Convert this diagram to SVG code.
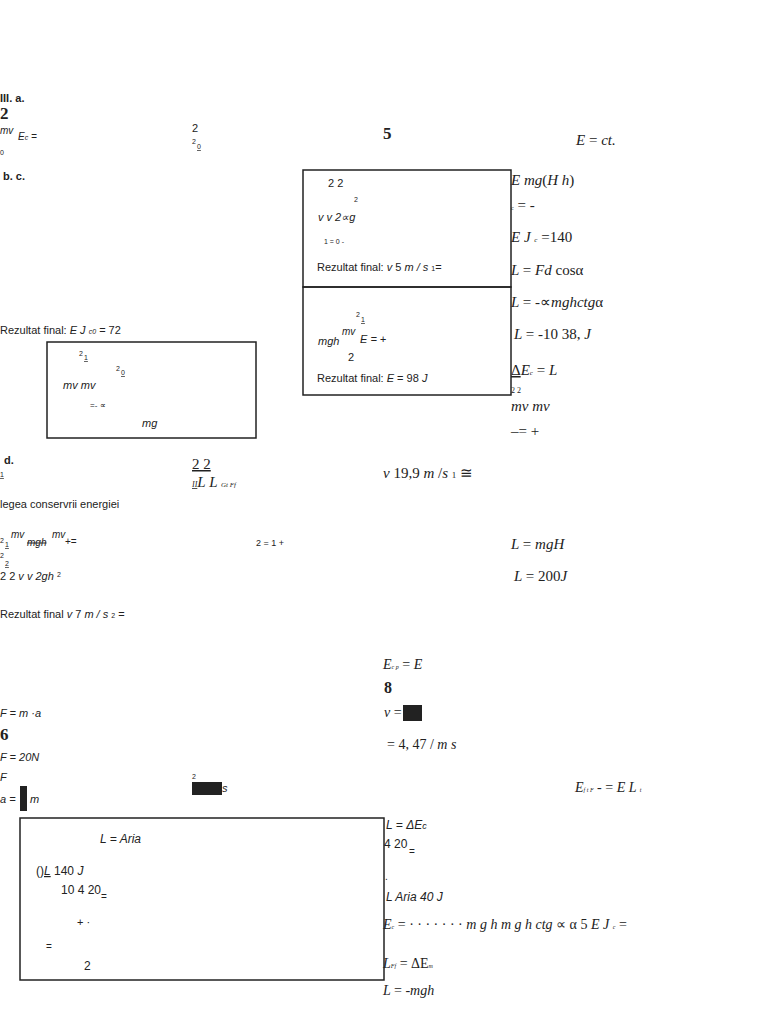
<svg xmlns="http://www.w3.org/2000/svg" width="768" height="1024" viewBox="0 0 768 1024">
<style>
.s{font-family:"Liberation Sans",Arial,sans-serif;font-size:11px;fill:#222}
.si{font-family:"Liberation Sans",Arial,sans-serif;font-size:11px;font-style:italic;fill:#222}
.sm{font-family:"Liberation Sans",Arial,sans-serif;font-size:7px;fill:#222}
.b{font-family:"Liberation Sans",Arial,sans-serif;font-size:11px;font-weight:bold;fill:#222}
.r{font-family:"Liberation Serif","Times New Roman",serif;font-size:15px;font-style:italic;fill:#222}
.rn{font-family:"Liberation Serif","Times New Roman",serif;font-size:15px;fill:#222}
.rb{font-family:"Liberation Serif","Times New Roman",serif;font-size:17px;font-weight:bold;fill:#222}
.box{fill:none;stroke:#222;stroke-width:1.5}
</style>
<rect width="768" height="1024" fill="#fff"/>
<g id="left-top">
<text class="b" x="0" y="102">III. a.</text>
<text class="rb" x="0" y="119">2</text>
<text class="si" x="0" y="134" style="font-size:10px">mv</text>
<text class="si" x="18" y="140" style="font-size:10px">E<tspan font-size="7">c</tspan> =</text>
<text class="sm" x="0" y="155">0</text>
<text class="s" x="192" y="132">2</text>
<text class="sm" x="192" y="144">2</text><text class="sm" x="197" y="149" text-decoration="underline">0</text>
<text class="b" x="3" y="180">b.   c.</text>
<text class="s" x="0" y="334">Rezultat final: <tspan font-style="italic">E J</tspan> <tspan font-size="7" font-style="italic">c0</tspan> = 72</text>
</g>
<g id="box1">
<rect class="box" x="47" y="342" width="209" height="96"/>
<text class="sm" x="79" y="356">2</text><text class="sm" x="84" y="360" text-decoration="underline">1</text>
<text class="sm" x="116" y="371">2</text><text class="sm" x="121" y="375" text-decoration="underline">0</text>
<text class="si" x="63" y="389">mv mv</text>
<text class="sm" x="90" y="408" style="font-size:8px">=- ∝</text>
<text class="si" x="142" y="427">mg</text>
</g>
<g id="box2">
<rect class="box" x="303" y="170" width="208" height="117"/>
<rect class="box" x="303" y="287" width="208" height="108"/>
<text class="s" x="328" y="187">2 2</text>
<text class="sm" x="354" y="202">2</text>
<text class="si" x="318" y="221">v v 2∝g</text>
<text class="sm" x="324" y="244">1 = 0 -</text>
<text class="s" x="317" y="271">Rezultat final: <tspan font-style="italic">v</tspan> 5 <tspan font-style="italic">m / s</tspan> <tspan font-size="7">1</tspan>=</text>
<text class="sm" x="356" y="317">2</text><text class="sm" x="361" y="322" text-decoration="underline">1</text>
<text class="si" x="342" y="335" style="font-size:10px">mv</text>
<text class="si" x="318" y="345">mgh</text>
<text class="si" x="360" y="343">E = +</text>
<text class="s" x="348" y="361">2</text>
<text class="s" x="317" y="382">Rezultat final: <tspan font-style="italic">E</tspan> = 98 <tspan font-style="italic">J</tspan></text>
</g>
<g id="right-top">
<text class="rb" x="383" y="139">5</text>
<text class="r" x="576" y="145">E <tspan font-style="normal">=</tspan> ct.</text>
<text class="r" x="511" y="185">E mg<tspan font-style="normal">(</tspan>H h<tspan font-style="normal">)</tspan></text>
<text class="rn" x="511" y="210"><tspan font-size="6">c</tspan> = -</text>
<text class="r" x="511" y="242">E J <tspan font-size="7">c</tspan> <tspan font-style="normal">=140</tspan></text>
<text class="r" x="511" y="275">L <tspan font-style="normal">=</tspan> Fd <tspan font-style="normal">cosα</tspan></text>
<text class="r" x="511" y="307">L <tspan font-style="normal">= -∝</tspan>mghctg<tspan font-style="normal">α</tspan></text>
<text class="r" x="514" y="339">L <tspan font-style="normal">= -10 38,</tspan> J</text>
<text class="r" x="511" y="375"><tspan font-style="normal" text-decoration="underline">Δ</tspan>E<tspan font-size="7">c</tspan> <tspan font-style="normal">=</tspan> L</text>
<text class="rn" x="511" y="393" style="font-size:8px">2 2</text>
<text class="r" x="511" y="411">mv mv</text>
<text class="rn" x="511" y="436">–= +</text>
<text class="r" x="383" y="478">v <tspan font-style="normal">19,9</tspan> m <tspan font-style="normal">/</tspan>s <tspan font-style="normal" font-size="9">1</tspan> <tspan font-style="normal">≅</tspan></text>
</g>
<g id="left-mid">
<text class="b" x="4" y="464">d.</text>
<text class="sm" x="0" y="477" text-decoration="underline">1</text>
<text class="rn" x="192" y="469" text-decoration="underline">2 2</text>
<text class="r" x="192" y="487"><tspan font-size="8" text-decoration="underline">II</tspan>L L <tspan font-size="7">Gt Ff</tspan></text>
<text class="s" x="0" y="508">legea conservrii energiei</text>
<text class="sm" x="0" y="543">2</text><text class="sm" x="5" y="547" text-decoration="underline">1</text>
<text class="si" x="11" y="538" style="font-size:10px">mv</text>
<text class="si" x="27" y="546" style="font-size:10px" text-decoration="line-through">mgh</text>
<text class="si" x="52" y="538" style="font-size:10px">mv</text>
<text class="s" x="65" y="545" style="font-size:10px">+=</text>
<text class="sm" x="0" y="558">2</text><text class="sm" x="5" y="566" text-decoration="underline">2</text>
<text class="s" x="0" y="580">2 2 <tspan font-style="italic">v v 2gh</tspan> <tspan font-size="7" baseline-shift="super">2</tspan></text>
<text class="s" x="256" y="546" style="font-size:9px">2 = 1 +</text>
<text class="s" x="0" y="618">Rezultat final <tspan font-style="italic">v</tspan> 7 <tspan font-style="italic">m / s</tspan> <tspan font-size="7">2</tspan> =</text>
<text class="r" x="511" y="549">L <tspan font-style="normal">=</tspan> mgH</text>
<text class="r" x="514" y="581">L <tspan font-style="normal">= 200</tspan>J</text>
</g>
<g id="left-bottom">
<text class="si" x="0" y="717">F = m ·a</text>
<text class="rb" x="0" y="740">6</text>
<text class="si" x="0" y="761">F = 20N</text>
<text class="si" x="0" y="781">F</text>
<text class="si" x="0" y="803">a =</text>
<rect x="20" y="786" width="7" height="25" fill="#222"/>
<text class="si" x="30" y="803">m</text>
<text class="sm" x="192" y="779">2</text>
<rect x="192" y="782" width="30" height="13" fill="#222"/>
<text class="si" x="222" y="792">s</text>
</g>
<g id="box3">
<rect class="box" x="20" y="818" width="364" height="162"/>
<text class="si" x="100" y="843" style="font-size:12px">L = Aria</text>
<text class="s" x="36" y="875" style="font-size:12px">()<tspan font-style="italic" text-decoration="underline">L</tspan> 140 <tspan font-style="italic">J</tspan></text>
<text class="s" x="61" y="894" style="font-size:12px">10 4 20</text><text class="s" x="101" y="900" style="font-size:10px">=</text>
<text class="s" x="77" y="926" style="font-size:11px">+ ·</text>
<text class="s" x="46" y="950" style="font-size:10px">=</text>
<text class="s" x="84" y="970" style="font-size:12px">2</text>
</g>
<g id="right-bottom">
<text class="r" x="383" y="669" style="font-size:14px">E<tspan font-size="6">c p</tspan> <tspan font-style="normal">=</tspan> E</text>
<text class="rb" x="384" y="693" style="font-size:16px">8</text>
<text class="r" x="384" y="717" style="font-size:14px">v <tspan font-style="normal">=</tspan></text>
<rect x="403" y="705" width="19" height="16" fill="#222"/>
<text class="rn" x="387" y="749" style="font-size:14px">= 4, 47 / <tspan font-style="italic">m s</tspan></text>
<text class="r" x="575" y="792" style="font-size:14px">E<tspan font-size="6">f t F</tspan> <tspan font-style="normal">- =</tspan> E L <tspan font-size="6">t</tspan></text>
<text class="si" x="386" y="829" style="font-size:12px">L = ΔE<tspan font-size="9">c</tspan></text>
<text class="s" x="384" y="848" style="font-size:12px">4 20</text><text class="s" x="409" y="855" style="font-size:10px">=</text>
<text class="s" x="385" y="880" style="font-size:10px">.</text>
<text class="si" x="386" y="901" style="font-size:12px">L Aria 40 J</text>
<text class="r" x="383" y="929" style="font-size:14px">E<tspan font-size="6">c</tspan> <tspan font-style="normal">= · · · · · · ·</tspan> m g h m g h ctg <tspan font-style="normal">∝ α  5</tspan> E J <tspan font-size="6">c</tspan> <tspan font-style="normal">=</tspan></text>
<text class="r" x="383" y="968" style="font-size:14px">L<tspan font-size="6">Ff</tspan> <tspan font-style="normal">= ΔE</tspan><tspan font-size="6">m</tspan></text>
<text class="r" x="383" y="995" style="font-size:14px">L <tspan font-style="normal">= -</tspan>mgh</text>
</g>
</svg>
